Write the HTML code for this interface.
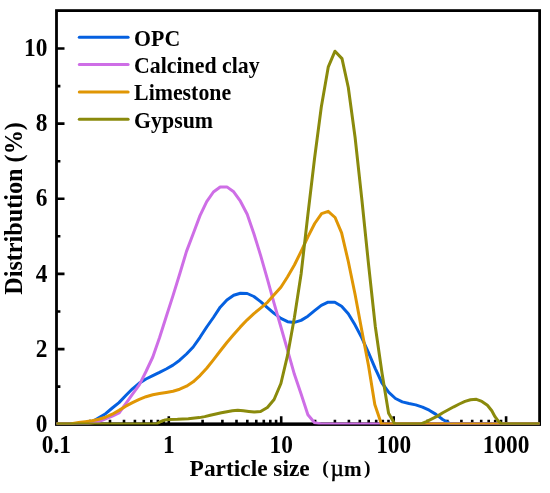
<!DOCTYPE html>
<html><head><meta charset="utf-8"><title>Particle size distribution</title>
<style>
html,body{margin:0;padding:0;background:#fff}
body{width:550px;height:493px;position:relative;overflow:hidden}
svg text{font-family:"Liberation Serif",serif;font-weight:bold;fill:#000}
.lg{font-size:21px}
.tk{font-size:24px}
.xt{font-size:23.4px}
.yt{font-size:23.9px}
.xp{font-size:19.5px}
.xm{font-size:21.2px}
svg text.xu{font-size:23.4px;font-weight:normal;stroke:#000;stroke-width:0.45px}
</style></head><body>
<svg width="550" height="493" viewBox="0 0 550 493" style="position:absolute;left:0;top:0">
<path d="M168.8 424.2 V416.3 M281.2 424.2 V416.3 M393.7 424.2 V416.3 M506.1 424.2 V416.3 M90.2 424.2 V419.8 M110.0 424.2 V419.8 M124.0 424.2 V419.8 M134.9 424.2 V419.8 M143.8 424.2 V419.8 M151.3 424.2 V419.8 M157.9 424.2 V419.8 M163.6 424.2 V419.8 M202.6 424.2 V419.8 M222.4 424.2 V419.8 M236.5 424.2 V419.8 M247.3 424.2 V419.8 M256.3 424.2 V419.8 M263.8 424.2 V419.8 M270.3 424.2 V419.8 M276.1 424.2 V419.8 M315.1 424.2 V419.8 M334.9 424.2 V419.8 M348.9 424.2 V419.8 M359.8 424.2 V419.8 M368.7 424.2 V419.8 M376.2 424.2 V419.8 M382.8 424.2 V419.8 M388.5 424.2 V419.8 M427.5 424.2 V419.8 M447.3 424.2 V419.8 M461.4 424.2 V419.8 M472.2 424.2 V419.8 M481.2 424.2 V419.8 M488.7 424.2 V419.8 M495.2 424.2 V419.8 M501.0 424.2 V419.8 M56.5 386.6 H60.4 M56.5 349.1 H64.5 M56.5 311.5 H60.4 M56.5 273.9 H64.5 M56.5 236.3 H60.4 M56.5 198.8 H64.5 M56.5 161.2 H60.4 M56.5 123.6 H64.5 M56.5 86.1 H60.4 M56.5 48.5 H64.5" stroke="#000" stroke-width="2.6" fill="none"/>
<rect x="56.5" y="10.6" width="483.1" height="413.6" fill="none" stroke="#000" stroke-width="2.8"/>
<path d="M55.1 424.2 H541.0" stroke="#000" stroke-width="3.2" fill="none"/>
<clipPath id="cp"><rect x="56.5" y="10.6" width="483.1" height="413.8"/></clipPath><g clip-path="url(#cp)">
<path d="M56.0 423.9 L87.0 423.9 L92.1 421.8 L98.8 417.8 L105.6 413.7 L112.3 408.0 L119.0 402.6 L125.8 395.5 L132.5 388.8 L139.3 383.1 L146.0 379.0 L152.8 375.6 L159.5 372.4 L166.2 369.0 L173.0 365.1 L179.7 360.2 L186.5 354.0 L193.2 347.0 L200.0 337.3 L206.7 327.0 L213.4 317.5 L220.2 307.2 L226.9 300.0 L233.7 295.3 L240.4 293.2 L247.2 293.5 L253.9 296.5 L260.6 301.6 L267.4 307.6 L274.1 313.4 L280.9 318.4 L287.6 321.7 L294.4 322.4 L301.1 320.4 L307.9 316.2 L314.6 310.7 L321.3 305.4 L328.1 302.2 L334.8 302.3 L341.6 306.2 L348.3 313.7 L355.1 325.1 L361.8 337.8 L368.5 352.7 L375.3 368.6 L382.0 383.0 L388.8 392.3 L395.5 398.5 L402.3 401.9 L409.0 403.5 L415.7 404.9 L422.5 407.1 L429.2 410.2 L436.0 414.4 L442.7 419.5 L449.5 423.3 L453.0 423.9 L540.0 423.9" stroke="#0560e0" stroke-width="3.0" fill="none" stroke-linejoin="round" stroke-linecap="butt"/>
<path d="M56.0 423.9 L88.0 423.9 L92.1 423.0 L98.8 421.5 L105.6 418.9 L112.3 416.2 L119.0 413.0 L125.8 403.6 L132.5 394.2 L139.3 384.8 L146.0 371.5 L152.8 357.0 L159.5 337.7 L166.2 316.8 L173.0 295.6 L179.7 274.0 L186.5 251.4 L193.2 233.7 L200.0 215.6 L206.7 201.6 L213.4 192.0 L220.2 187.0 L226.9 186.9 L233.7 191.8 L240.4 201.2 L247.2 214.3 L253.9 233.7 L260.6 255.4 L267.4 279.2 L274.1 303.3 L280.9 327.0 L287.6 350.4 L294.4 374.3 L301.1 394.0 L307.9 414.8 L314.6 422.8 L321.3 423.9 L540.0 423.9" stroke="#ce6ee6" stroke-width="3.0" fill="none" stroke-linejoin="round" stroke-linecap="butt"/>
<path d="M56.0 423.9 L70.0 423.9 L78.6 422.6 L85.3 421.7 L92.1 420.7 L98.8 419.3 L105.6 417.2 L112.3 414.2 L119.0 410.4 L125.8 406.2 L132.5 402.7 L139.3 399.4 L146.0 396.7 L152.8 394.8 L159.5 393.6 L166.2 392.4 L173.0 391.2 L179.7 389.2 L186.5 386.2 L193.2 381.8 L200.0 375.6 L206.7 368.3 L213.4 359.9 L220.2 351.0 L226.9 342.5 L233.7 334.5 L240.4 326.9 L247.2 319.8 L253.9 313.6 L260.6 308.1 L267.4 302.3 L274.1 294.8 L280.9 287.2 L287.6 276.8 L294.4 265.0 L301.1 251.4 L307.9 236.9 L314.7 223.5 L321.6 213.6 L328.2 211.3 L335.1 217.5 L341.6 232.8 L348.3 261.5 L355.1 294.5 L361.8 330.5 L368.5 365.5 L374.8 404.5 L381.4 423.9 L540.0 423.9" stroke="#e09604" stroke-width="3.0" fill="none" stroke-linejoin="round" stroke-linecap="butt"/>
<path d="M56.0 423.9 L156.6 423.9 L160.9 421.5 L165.3 419.9 L168.6 419.4 L177.4 419.2 L188.3 418.7 L199.3 417.6 L204.7 416.6 L210.3 415.2 L215.9 414.0 L221.4 412.8 L226.9 411.7 L232.4 410.8 L237.8 410.3 L243.3 410.7 L248.8 411.4 L254.3 412.0 L260.6 411.5 L267.4 407.5 L274.1 399.5 L280.9 383.5 L287.6 355.2 L294.4 317.4 L301.1 274.0 L307.9 214.5 L314.6 158.0 L321.3 107.0 L328.3 66.8 L335.0 51.2 L342.0 58.6 L348.3 87.5 L355.1 137.5 L361.8 199.0 L368.5 264.0 L375.3 326.5 L382.0 373.0 L388.6 413.2 L394.8 423.9 L421.0 423.9 L426.4 421.6 L431.9 418.9 L437.4 416.1 L442.8 412.8 L448.3 409.8 L453.8 406.8 L459.3 404.0 L465.0 401.4 L470.5 399.7 L476.4 399.3 L481.9 401.4 L487.4 405.2 L491.8 410.7 L495.0 416.7 L498.3 421.1 L501.8 423.9 L540.0 423.9" stroke="#8a8a0c" stroke-width="3.0" fill="none" stroke-linejoin="round" stroke-linecap="butt"/>
</g>
<path d="M79.3 37.2 H128.1" stroke="#0560e0" stroke-width="3" stroke-linecap="round"/>
<text transform="translate(134.10 45.70) scale(1.040 1.089)" class="lg" text-anchor="start" xml:space="preserve">OPC</text>
<path d="M79.3 64.5 H128.1" stroke="#ce6ee6" stroke-width="3" stroke-linecap="round"/>
<text transform="translate(134.10 73.00) scale(1.040 1.089)" class="lg" text-anchor="start" xml:space="preserve">Calcined clay</text>
<path d="M79.3 91.9 H128.1" stroke="#e09604" stroke-width="3" stroke-linecap="round"/>
<text transform="translate(134.10 100.40) scale(1.040 1.089)" class="lg" text-anchor="start" xml:space="preserve">Limestone</text>
<path d="M79.3 119.2 H128.1" stroke="#8a8a0c" stroke-width="3" stroke-linecap="round"/>
<text transform="translate(134.10 127.70) scale(1.040 1.089)" class="lg" text-anchor="start" xml:space="preserve">Gypsum</text>
<text transform="translate(56.30 452.50) scale(0.974 1.060)" class="tk" text-anchor="middle" xml:space="preserve">0.1</text>
<text transform="translate(168.75 452.50) scale(0.974 1.060)" class="tk" text-anchor="middle" xml:space="preserve">1</text>
<text transform="translate(281.20 452.50) scale(0.974 1.060)" class="tk" text-anchor="middle" xml:space="preserve">10</text>
<text transform="translate(393.65 452.50) scale(0.974 1.060)" class="tk" text-anchor="middle" xml:space="preserve">100</text>
<text transform="translate(506.10 452.50) scale(0.974 1.060)" class="tk" text-anchor="middle" xml:space="preserve">1000</text>
<text transform="translate(47.40 431.80) scale(0.974 1.060)" class="tk" text-anchor="end" xml:space="preserve">0</text>
<text transform="translate(47.40 356.66) scale(0.974 1.060)" class="tk" text-anchor="end" xml:space="preserve">2</text>
<text transform="translate(47.40 281.52) scale(0.974 1.060)" class="tk" text-anchor="end" xml:space="preserve">4</text>
<text transform="translate(47.40 206.38) scale(0.974 1.060)" class="tk" text-anchor="end" xml:space="preserve">6</text>
<text transform="translate(47.40 131.24) scale(0.974 1.060)" class="tk" text-anchor="end" xml:space="preserve">8</text>
<text transform="translate(47.40 56.10) scale(0.974 1.060)" class="tk" text-anchor="end" xml:space="preserve">10</text>
<text transform="translate(189.60 476.20)" class="xt" text-anchor="start" xml:space="preserve">Particle size</text>
<text transform="translate(322.20 473.90)" class="xp" text-anchor="start" xml:space="preserve">(</text>
<text transform="translate(330.40 476.00)" class="xu" text-anchor="start" xml:space="preserve">µ</text>
<text transform="translate(344.00 476.00)" class="xm" text-anchor="start" xml:space="preserve">m</text>
<text transform="translate(364.00 473.90)" class="xp" text-anchor="start" xml:space="preserve">)</text>
<text transform="translate(22.30 294.80) rotate(-90) scale(1.013 1.050)" class="yt" text-anchor="start" xml:space="preserve">Distribution (%)</text>
</svg>
</body></html>
